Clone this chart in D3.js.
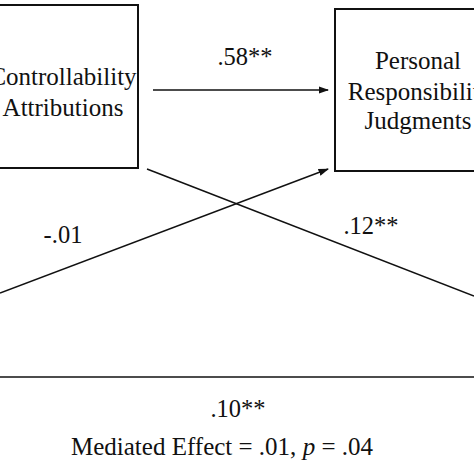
<!DOCTYPE html>
<html><head><meta charset="utf-8">
<script src="https://cdn.jsdelivr.net/npm/d3@7"></script>
<style>body{margin:0;background:#fff}</style></head>
<body><svg id="c" width="474" height="474"></svg>
<script>
const boxes = [
  {id:"X", lines:["Controllability","Attributions"], x:-20, y:5, w:158, h:163},
  {id:"M", lines:["Personal","Responsibility","Judgments"], x:335, y:9, w:170, h:162}
];
const pathLabels = [".58**", "-.01", ".12**", ".10**"];
const footer = ["Mediated Effect = .01, ", "p", " = .04"];

const svg = d3.select("#c");
const font = "'Liberation Serif','Times New Roman',serif";
svg.append("defs").append("marker").attr("id","ah").attr("viewBox","0 0 10 10")
  .attr("refX",9).attr("refY",5).attr("markerWidth",7).attr("markerHeight",7).attr("orient","auto")
  .append("path").attr("d","M0,1.5L10,5L0,8.5z").attr("fill","#111");

boxes.forEach(b=>{
  svg.append("rect").attr("x",b.x).attr("y",b.y).attr("width",b.w).attr("height",b.h)
    .attr("fill","none").attr("stroke","#111").attr("stroke-width",2);
});
const tx = [[{t:boxes[0].lines[0],x:63,y:85},{t:boxes[0].lines[1],x:63,y:116}],
            [{t:boxes[1].lines[0],x:418,y:69},{t:boxes[1].lines[1],x:420,y:100},{t:boxes[1].lines[2],x:418,y:129}]];
tx.flat().forEach(d=>svg.append("text").attr("x",d.x).attr("y",d.y).attr("text-anchor","middle")
  .attr("font-family",font).attr("font-size",25).attr("fill","#111").text(d.t));

const line=(x1,y1,x2,y2,arrow)=>{const l=svg.append("line").attr("x1",x1).attr("y1",y1).attr("x2",x2).attr("y2",y2)
  .attr("stroke","#111").attr("stroke-width",1.5); if(arrow) l.attr("marker-end","url(#ah)");};
line(153,90,328,90,true);
line(147,169,474,296,false);
line(0,293,328,169,true);
line(0,377,474,377,false);

const lab=[{t:pathLabels[0],x:245,y:65},{t:pathLabels[1],x:63,y:243},{t:pathLabels[2],x:371,y:234},{t:pathLabels[3],x:238,y:417}];
lab.forEach(d=>svg.append("text").attr("x",d.x).attr("y",d.y).attr("text-anchor","middle")
  .attr("font-family",font).attr("font-size",24.5).attr("fill","#111").text(d.t));
const ft=svg.append("text").attr("x",222).attr("y",455).attr("text-anchor","middle")
  .attr("font-family",font).attr("font-size",25).attr("fill","#111");
ft.append("tspan").text(footer[0]);
ft.append("tspan").attr("font-style","italic").text(footer[1]);
ft.append("tspan").text(footer[2]);
</script></body></html>
